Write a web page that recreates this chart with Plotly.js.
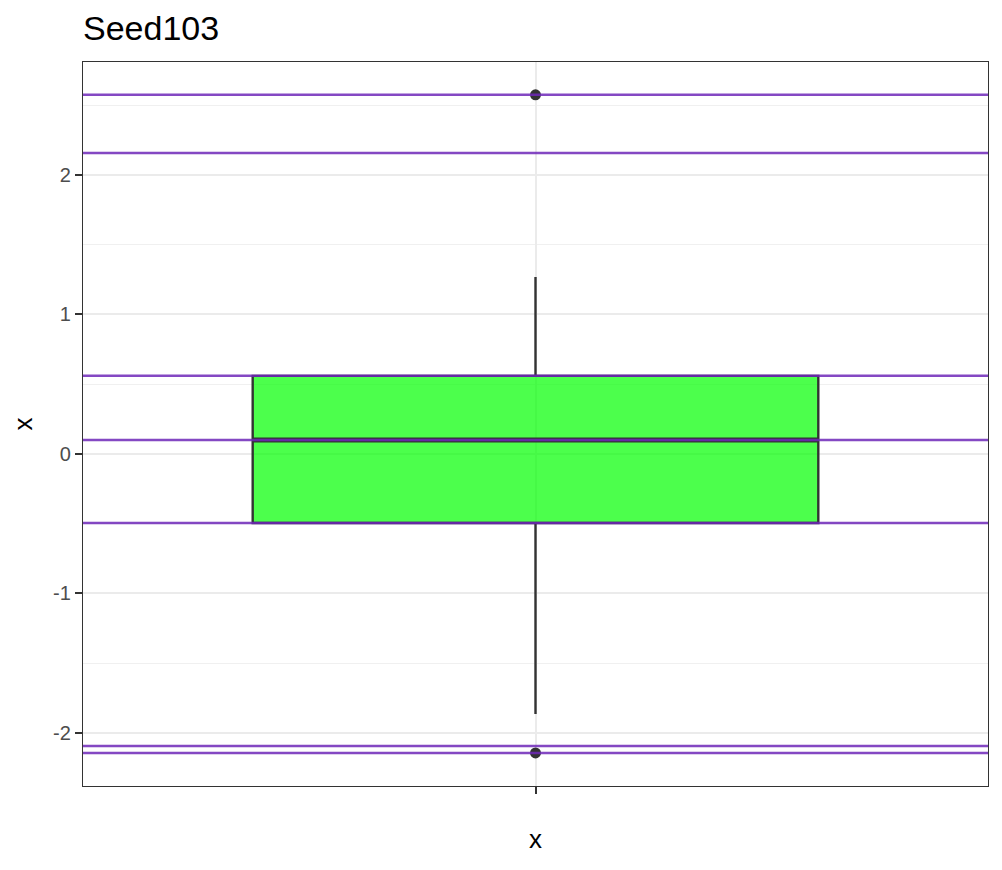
<!DOCTYPE html>
<html>
<head>
<meta charset="utf-8">
<script src="https://cdn.plot.ly/plotly-3.0.1.min.js"></script>
<style>
  body { margin: 0; background: #fff; }
  #myGraph { width: 1002px; height: 870px; }
</style>
</head>
<body>
<div id="myGraph"></div>
<script>
let myGraph = document.getElementById('myGraph');

// box statistics
let category = ['x'];
let q1 = [-0.495];
let median = [0.10];
let q3 = [0.56];
let lowerWhisker = [-1.864];
let upperWhisker = [1.268];

// outlier points
let outlierX = ['x', 'x'];
let outlierY = [2.575, -2.143];

// horizontal reference lines
let hlines = [2.575, 2.158, 0.56, 0.10, -0.495, -2.093, -2.143];

// y tick labels (plain hyphen like the original)
let yTicks = [-2, -1, 0, 1, 2];
let yTickText = ['-2', '-1', '0', '1', '2'];

// box trace
let trace1 = {
  type: 'box',
  x: category,
  q1: q1,
  median: median,
  q3: q3,
  lowerfence: lowerWhisker,
  upperfence: upperWhisker,
  width: 0.75,
  whiskerwidth: 0,
  fillcolor: 'rgba(0,255,0,0.7)',
  line: { color: '#333333', width: 2.4 },
  boxpoints: false,
  hoverinfo: 'skip',
  showlegend: false,
};

// outliers
let trace2 = {
  type: 'scatter',
  mode: 'markers',
  x: outlierX,
  y: outlierY,
  marker: { color: '#333333', size: 11 },
  showlegend: false,
};

// thick median bar (ggplot fattens it)
let shapes = [{
  type: 'line',
  xref: 'x',
  yref: 'y',
  x0: -0.375,
  x1: 0.375,
  y0: median[0],
  y1: median[0],
  line: { color: '#333333', width: 5 },
  layer: 'above',
}];

hlines.forEach(v => shapes.push({
  type: 'line',
  xref: 'paper',
  yref: 'y',
  x0: 0,
  x1: 1,
  y0: v,
  y1: v,
  line: { color: 'rgba(110,40,185,0.85)', width: 2.5 },
  layer: 'above',
}));

let layout = {
  width: 1002,
  height: 870,
  margin: { l: 83, r: 14, t: 62, b: 84 },
  paper_bgcolor: '#ffffff',
  plot_bgcolor: '#ffffff',
  font: { family: 'Liberation Sans, Arial, sans-serif', color: '#000000' },
  title: {
    text: 'Seed103',
    xref: 'paper',
    xanchor: 'left',
    x: 0,
    y: 0.968,
    yanchor: 'middle',
    font: { size: 34, color: '#000000' },
  },
  xaxis: {
    type: 'category',
    range: [-0.6, 0.6],
    tickvals: ['x'],
    ticktext: [''],
    ticks: 'outside',
    ticklen: 7,
    tickwidth: 2,
    tickcolor: '#333333',
    showgrid: true,
    gridcolor: '#EBEBEB',
    gridwidth: 2,
    showline: true,
    mirror: true,
    linecolor: '#333333',
    linewidth: 1.3,
    zeroline: false,
    title: { text: 'x', font: { size: 26, color: '#000000' }, standoff: 34 },
  },
  yaxis: {
    range: [-2.38, 2.81],
    tickvals: yTicks,
    ticktext: yTickText,
    ticks: 'outside',
    ticklen: 7,
    tickwidth: 2,
    tickcolor: '#333333',
    tickfont: { size: 20, color: '#4D4D4D' },
    showgrid: true,
    gridcolor: '#EBEBEB',
    gridwidth: 2,
    minor: { dtick: 0.5, tick0: 0, showgrid: true, gridcolor: '#F0F0F0', gridwidth: 1 },
    showline: true,
    mirror: true,
    linecolor: '#333333',
    linewidth: 1.3,
    zeroline: false,
    title: { text: 'x', font: { size: 26, color: '#000000' }, standoff: 12 },
  },
  shapes: shapes,
};

Plotly.newPlot(myGraph, [trace1, trace2], layout, { displayModeBar: false });
</script>
</body>
</html>
